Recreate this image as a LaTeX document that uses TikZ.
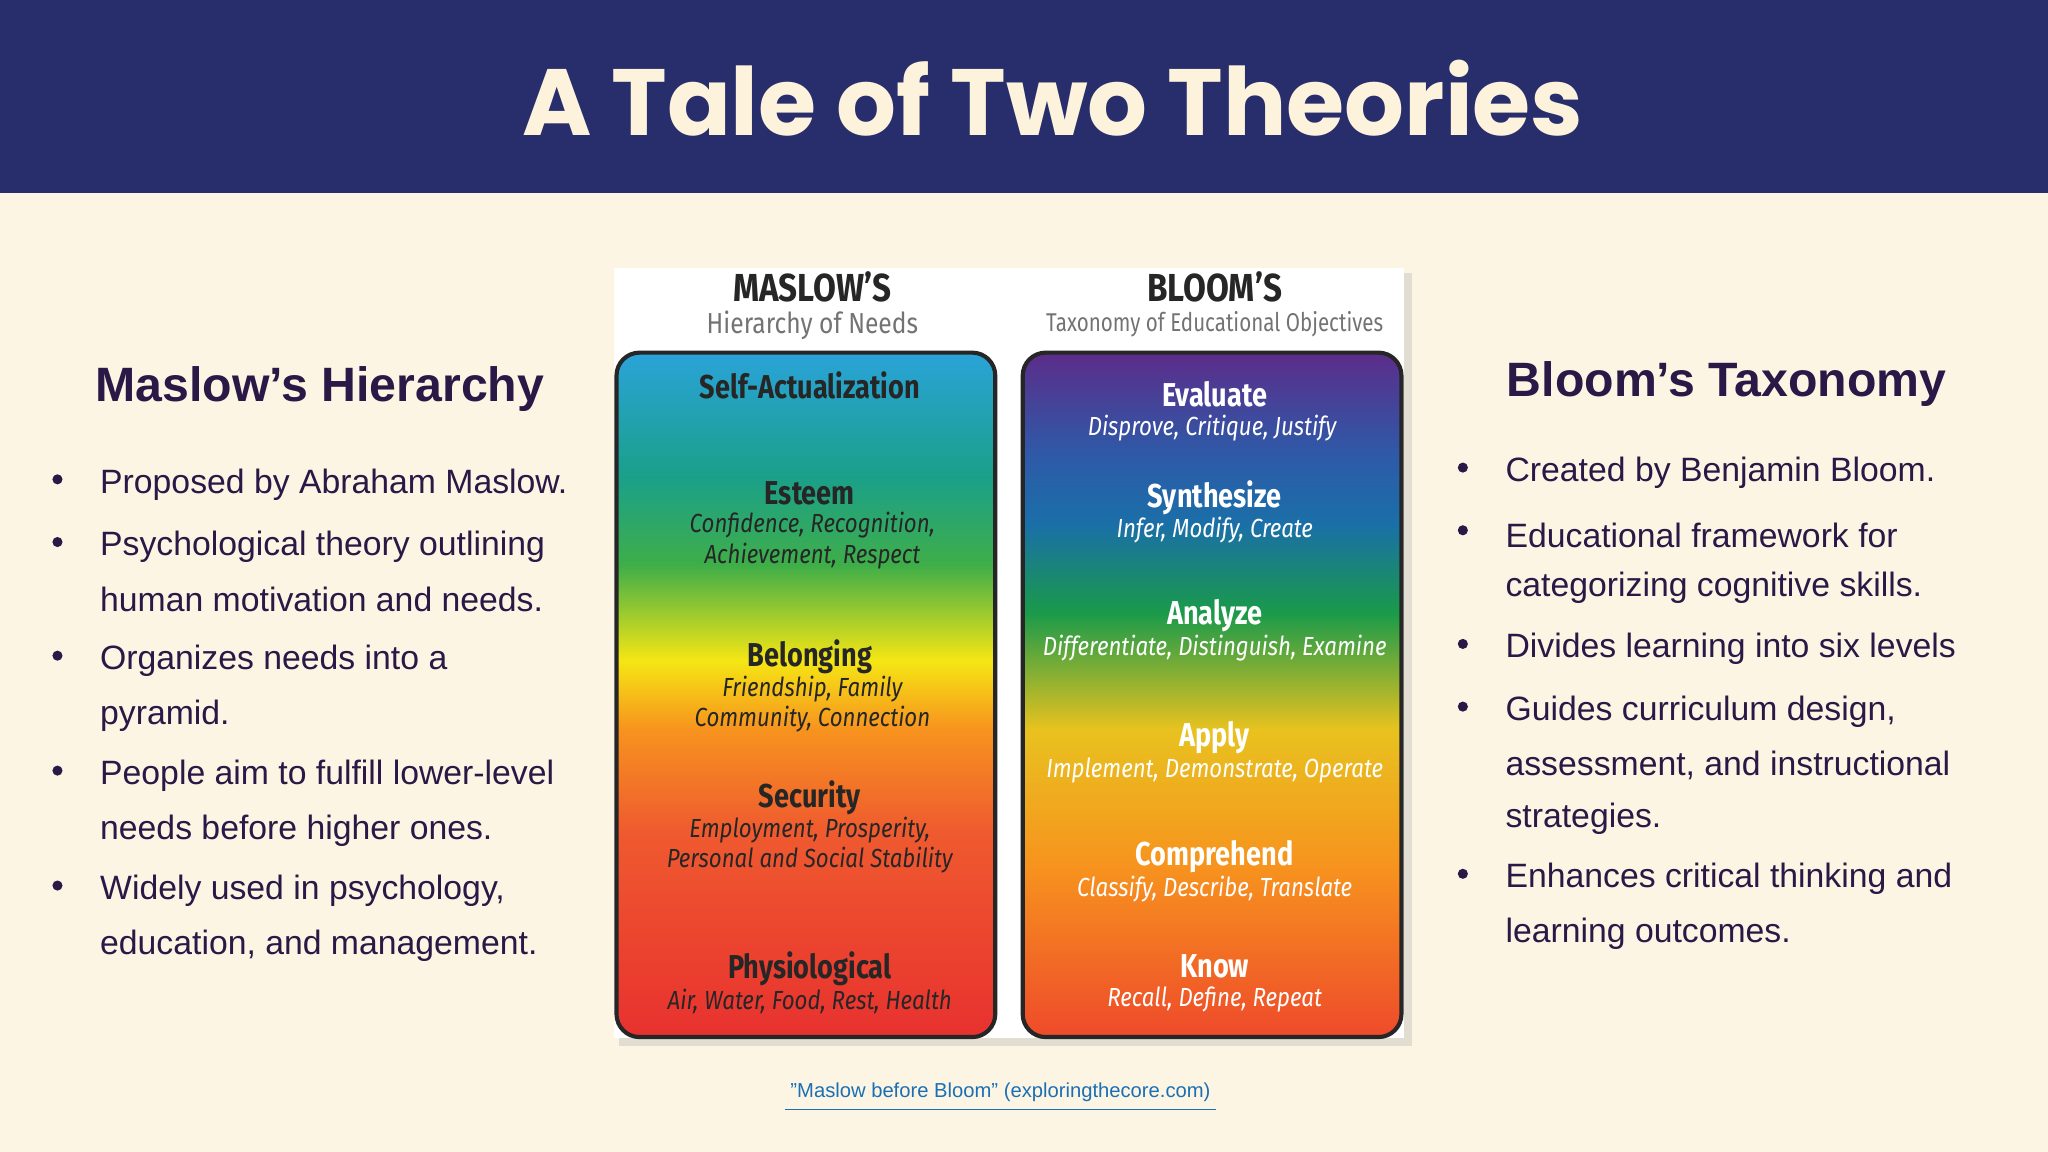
\documentclass[tikz,border=0pt]{standalone}
\usepackage{fontspec}
\setmainfont{Liberation Sans}
\newfontfamily\poppins{Poppins}
\newfontfamily\fira{Fira Sans}
\definecolor{hdr}{HTML}{272E6B}
\definecolor{bgc}{HTML}{FDF5E3}
\definecolor{ttl}{HTML}{FDF3DC}
\definecolor{txt}{HTML}{2A1846}
\definecolor{lnk}{HTML}{1A6FB5}
\definecolor{ma}{HTML}{E8312F}
\definecolor{mb}{HTML}{EF5A2F}
\definecolor{mc}{HTML}{F7931E}
\definecolor{md}{HTML}{F5E614}
\definecolor{me}{HTML}{3FAE49}
\definecolor{mf}{HTML}{1AA08A}
\definecolor{mg}{HTML}{2AA3D9}
\definecolor{ba}{HTML}{EE4A2A}
\definecolor{bb}{HTML}{F7931E}
\definecolor{bc}{HTML}{E8C21F}
\definecolor{bd}{HTML}{1A9A4A}
\definecolor{be}{HTML}{1A6FA8}
\definecolor{bf}{HTML}{2E5AA8}
\definecolor{bg}{HTML}{5B2D8A}
\pgfdeclareverticalshading{maslowsh}{100bp}{
 color(0bp)=(ma); color(25bp)=(ma); color(40bp)=(mb); color(47.5bp)=(mc); color(52.5bp)=(md);
 color(59.5bp)=(me); color(66bp)=(mf); color(75bp)=(mg); color(100bp)=(mg)}
\pgfdeclareverticalshading{bloomsh}{100bp}{
 color(0bp)=(ba); color(25bp)=(ba); color(37.5bp)=(bb); color(47.5bp)=(bc); color(56bp)=(bd);
 color(62.5bp)=(be); color(67.5bp)=(bf); color(75bp)=(bg); color(100bp)=(bg)}
\tikzset{
 bul/.style={anchor=west,text=txt,font=\fontsize{7.35}{8}\selectfont,inner sep=0pt},
 dot/.style={circle,fill=txt,inner sep=0pt,minimum size=2.2pt},
 head/.style={text=txt,font=\fontsize{10.5}{12}\selectfont\bfseries},
 bt/.style={font=\fira\fontsize{7.2}{8}\selectfont\bfseries,xscale=0.82,transform shape},
 bs/.style={font=\fira\fontsize{5.7}{6.6}\selectfont\itshape, align=center,xscale=0.85,transform shape},
 bx/.style={rounded corners=5pt,draw=black!85,line width=0.9pt}
}
\begin{document}
\begin{tikzpicture}[x=0.01cm,y=-0.01cm]
\fill[bgc] (0,0) rectangle (1568,882);
\useasboundingbox (0,0) rectangle (1568,882);
\fill[hdr] (0,0) rectangle (1568,148);
\node[text=ttl,font=\poppins\fontsize{20.5}{24}\selectfont\bfseries] (title) at (806,75) {A Tale of Two Theories};
% panel
\fill[black!30,opacity=0.35] (474,209) rectangle (1081,801);
\fill[white] (470,205) rectangle (1075,795);
\node[font=\fira\fontsize{8.5}{9}\selectfont\bfseries,text=black!85,xscale=0.85,transform shape] (mh) at (622,220) {MASLOW’S};
\node[font=\fira\fontsize{6.3}{7}\selectfont\addfontfeatures{},text=black!55,xscale=0.85,transform shape] (mh2) at (622,249) {Hierarchy of Needs};
\node[font=\fira\fontsize{8.5}{9}\selectfont\bfseries,text=black!85,xscale=0.85,transform shape] (bh) at (930,220) {BLOOM’S};
\node[font=\fira\fontsize{5.6}{7}\selectfont,text=black!55,xscale=0.8,transform shape] (bh2) at (930,248) {Taxonomy of Educational Objectives};
\shade[shading=maslowsh,rounded corners=5pt] (472,270) rectangle (762,794);
\draw[bx] (472,270) rectangle (762,794);
\shade[shading=bloomsh,rounded corners=5pt] (783,270) rectangle (1073,794);
\draw[bx] (783,270) rectangle (1073,794);
\begin{scope}[text=black!85]
\node[bt] (m1) at (620,295) {Self-Actualization};
\node[bt] (m2) at (620,378) {Esteem};
\node[bs] (m2s) at (622,414) {Confidence, Recognition,\\Achievement, Respect};
\node[bt] (m3) at (620,503) {Belonging};
\node[bs] (m3s) at (622,539) {Friendship, Family\\Community, Connection};
\node[bt] (m4) at (620,611) {Security};
\node[bs] (m4s) at (620,647) {Employment, Prosperity,\\Personal and Social Stability};
\node[bt] (m5) at (620,742) {Physiological};
\node[bs] (m5s) at (620,767) {Air, Water, Food, Rest, Health};
\end{scope}
\begin{scope}[text=white]
\node[bt] (b1) at (930,302) {Evaluate};
\node[bs] (b1s) at (928,328) {Disprove, Critique, Justify};
\node[bt] (b2) at (930,381) {Synthesize};
\node[bs] (b2s) at (930,406) {Infer, Modify, Create};
\node[bt] (b3) at (930,471) {Analyze};
\node[bs] (b3s) at (930,496) {Differentiate, Distinguish, Examine};
\node[bt] (b4) at (930,565) {Apply};
\node[bs] (b4s) at (930,590) {Implement, Demonstrate, Operate};
\node[bt] (b5) at (930,656) {Comprehend};
\node[bs] (b5s) at (930,681) {Classify, Describe, Translate};
\node[bt] (b6) at (930,740) {Know};
\node[bs] (b6s) at (930,765) {Recall, Define, Repeat};
\end{scope}
\node[text=lnk,font=\fontsize{4.4}{5}\selectfont,inner sep=1pt] (link) at (766,836) {"Maslow before Bloom" (exploringthecore.com)};
\draw[lnk,line width=0.3pt] ([yshift=-0.6pt]link.south west) -- ([yshift=-0.6pt]link.south east);
% left
\node[head] (lh) at (245,298) {Maslow’s Hierarchy};
\foreach \y in {367,415,502,590,678} \node[dot] at (44,\y) {};
\node[bul] (l1) at (76,371) {Proposed by Abraham Maslow.};
\node[bul] (l2) at (76,419) {Psychological theory outlining};
\node[bul] (l3) at (76,459) {human motivation and needs.};
\node[bul] (l4) at (76,506) {Organizes needs into a};
\node[bul] (l5) at (76,548) {pyramid.};
\node[bul] (l6) at (76,594) {People aim to fulfill lower-level};
\node[bul] (l7) at (76,636) {needs before higher ones.};
\node[bul] (l8) at (76,682) {Widely used in psychology,};
\node[bul] (l9) at (76,724) {education, and management.};
% right
\node[head] (rh) at (1322,294) {Bloom’s Taxonomy};
\foreach \y in {358,406,493,541,669} \node[dot] at (1120,\y) {};
\node[bul] (r1) at (1152,362) {Created by Benjamin Bloom.};
\node[bul] (r2) at (1152,410) {Educational framework for};
\node[bul] (r3) at (1152,450) {categorizing cognitive skills.};
\node[bul] (r4) at (1152,497) {Divides learning into six levels};
\node[bul] (r5) at (1152,545) {Guides curriculum design,};
\node[bul] (r6) at (1152,586) {assessment, and instructional};
\node[bul] (r7) at (1152,627) {strategies.};
\node[bul] (r8) at (1152,673) {Enhances critical thinking and};
\node[bul] (r9) at (1152,715) {learning outcomes.};
\end{tikzpicture}
\end{document}
